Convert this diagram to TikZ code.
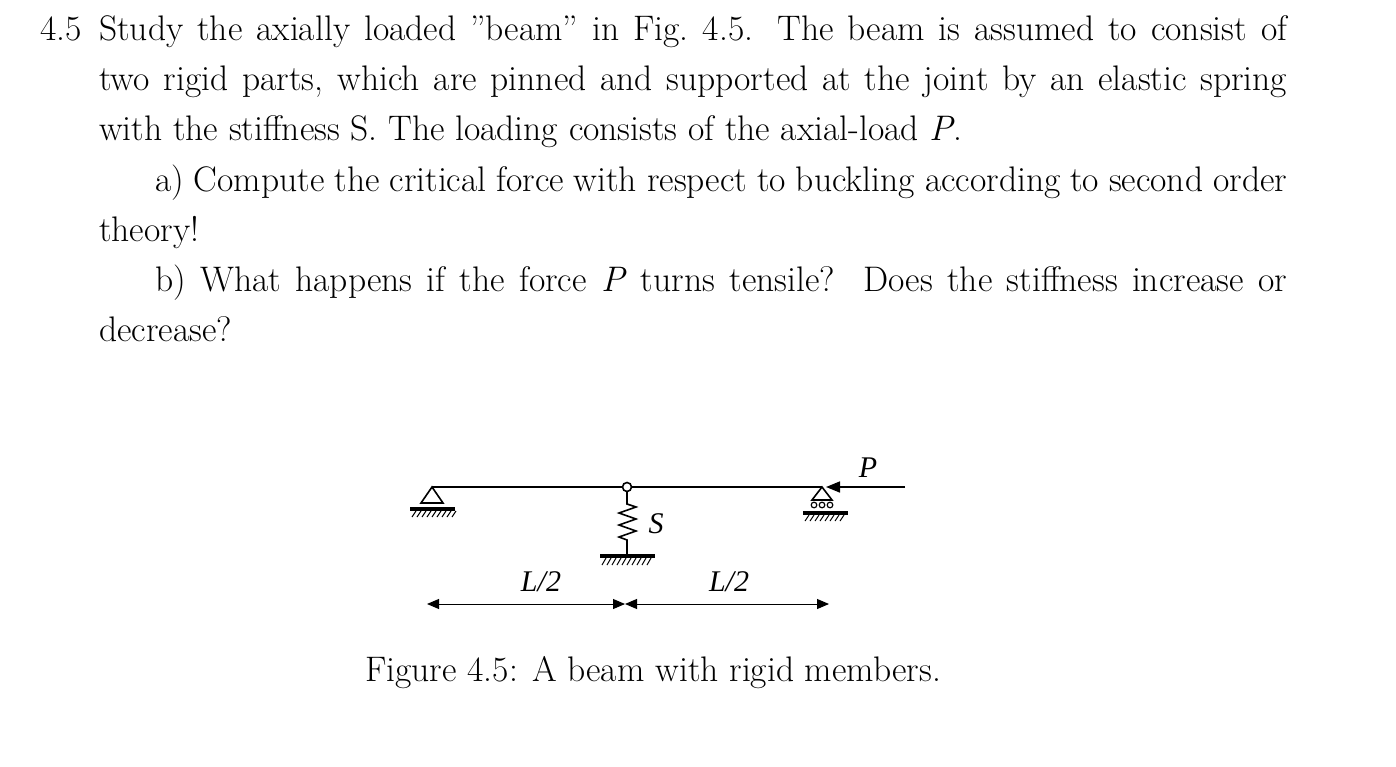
\documentclass[tikz,border=0pt]{standalone}
\usepackage{fontspec}
\newfontfamily\figfont{Liberation Serif}
\usetikzlibrary{arrows.meta,patterns}
\begin{document}
\begin{tikzpicture}[x=1pt,y=-1pt,
  txt/.style={anchor=base west,inner sep=0pt,font=\fontsize{35.5}{40}\selectfont},
  lab/.style={inner sep=0pt,font=\figfont\itshape\fontsize{30}{32}\selectfont},
  mem/.style={line width=2.4pt},
  thin/.style={line width=1.6pt},
  dim/.style={line width=1pt,{Triangle[length=12pt,width=10pt]}-{Triangle[length=12pt,width=10pt]}},
  gnd/.style={line width=3.5pt}]
\useasboundingbox (0,0) rectangle (1396,766);
% text
\node[txt] (n45) at (40,40) {4.5};
\node[txt] (l1) at (99,40) {\hbox to 1188pt{Study the axially loaded ''beam'' in Fig.\ 4.5. The beam is assumed to consist of}};
\node[txt] (l2) at (99,90) {\hbox to 1188pt{two rigid parts, which are pinned and supported at the joint by an elastic spring}};
\node[txt] (l3) at (99,140) {with the stiffness S. The loading consists of the axial-load \textit{P}.};
\node[txt] (l4) at (155,191) {\hbox to 1132pt{a) Compute the critical force with respect to buckling according to second order}};
\node[txt] (l5) at (99,241) {theory!};
\node[txt] (l6) at (155,291) {\hbox to 1132pt{b) What happens if the force \textit{P} turns tensile?\ \ Does the stiffness increase or}};
\node[txt] (l7) at (99,341) {decrease?};
\node[txt] (cap) at (365,681) {Figure 4.5: A beam with rigid members.};
% figure
\coordinate (A) at (432,487);
\coordinate (H) at (627,487);
\coordinate (B) at (822,487);
\draw[mem] (A) -- (H) (H) -- (B);
% left support
\draw[thin] (A) -- (421,503) -- (443,503) -- cycle;
\draw[gnd] (410,509) -- (455,509);
\foreach \x in {412,417,...,452} \draw[line width=1pt] (\x,517) -- (\x+4,511);
% hinge and spring
\draw[thin,fill=white] (H) circle (4.5);
\draw[thin] (627,491.5) -- (627,504) -- (636,507) -- (619,513) -- (636,519) -- (619,525) -- (636,531) -- (619,537) -- (627,540) -- (627,555);
\draw[gnd] (600,556) -- (655,556);
\foreach \x in {602,607,...,650} \draw[line width=1pt] (\x,565) -- (\x+4,558);
\node[lab] (S) at (656,524) {S};
% right support
\draw[thin] (B) -- (812,500) -- (832,500) -- cycle;
\foreach \x in {814,822,830} \draw[line width=1.2pt] (\x,505) circle (2.8);
\draw[gnd] (803,513) -- (848,513);
\foreach \x in {805,810,...,843} \draw[line width=1pt] (\x,521) -- (\x+4,515);
% load P
\coordinate (Pe) at (905,487);
\draw[line width=1.6pt,-{Triangle[length=14pt,width=11pt]}] (Pe) -- (826,487);
\node[lab] (P) at (868,468) {P};
% dimensions
\coordinate (d1) at (427,604);
\coordinate (d2) at (625,604);
\coordinate (d3) at (829,604);
\draw[dim] (d1) -- (d2);
\draw[dim] (d2) -- (d3);
\node[lab] (L1) at (541,582) {L/2};
\node[lab] (L2) at (729,582) {L/2};
\end{tikzpicture}
\end{document}
